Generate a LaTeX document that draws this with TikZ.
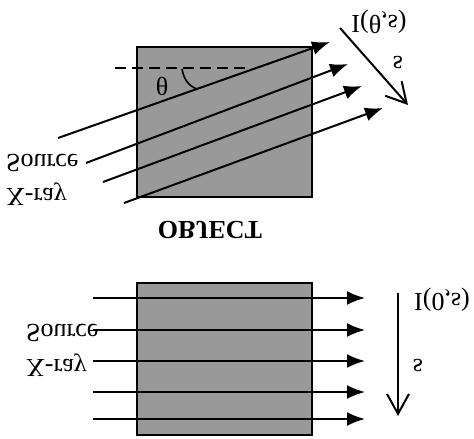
\documentclass[tikz,border=0pt]{standalone}
\usepackage{fontspec}
\setmainfont{Liberation Serif}
\usetikzlibrary{arrows.meta}
\begin{document}
\begin{tikzpicture}[x=1pt, y=-1pt,
        beam/.style={line width=2pt, -{Latex[length=18pt, width=14pt]}},
        saxis/.style={line width=2pt, -{Straight Barb[length=20pt, width=22pt, line width=2pt]}},
        upside/.style={yscale=-1, inner sep=0pt, font=\fontsize{26}{28}\selectfont},
        object/.style={draw, line width=1.8pt, fill=black!40, inner sep=0pt, minimum width=175pt}]
        \useasboundingbox (0,0) rectangle (474,439);

        % Nodes
        \node(top) [object, minimum height=150pt] at (224.5,122) {};
        \node(bottom) [object, minimum height=152pt] at (224.5,359) {};
        \node(name) [upside, font=\fontsize{26}{28}\selectfont\bfseries] at (210,230) {OBJECT};
        \node(src1) [upside, anchor=west] at (6,163) {Source};
        \node(xray1) [upside, anchor=west] at (6,194) {X-ray};
        \node(src2) [upside, anchor=west] at (26,333) {Source};
        \node(xray2) [upside, anchor=west] at (26,365) {X-ray};
        \node(theta) [upside] at (162,86) {θ};
        \node(Itheta) [upside] at (379,22) {I(θ,s)};
        \node(s1) [upside] at (398,62) {s};
        \node(Izero) [upside, anchor=west] at (414,300) {I(0,s)};
        \node(s2) [upside] at (418,365) {s};

        % Coordinates
        \coordinate(a1) at (58,138);  \coordinate(b1) at (330,42);
        \coordinate(a2) at (86,163);  \coordinate(b2) at (348,64);
        \coordinate(a3) at (103,182); \coordinate(b3) at (362,86);
        \coordinate(a4) at (124,203); \coordinate(b4) at (383,108);
        \coordinate(d1) at (115,68);  \coordinate(d2) at (247,68);
        \coordinate(u1) at (340,28);  \coordinate(u2) at (408,105);
        \coordinate(v1) at (398,293); \coordinate(v2) at (398,416);

        % Edges
        \draw[line width=1.8pt, dash pattern=on 11pt off 6pt] (d1) -- (d2);
        \draw[line width=1.6pt] (182,69) .. controls (184,80) and (189,86) .. (197,89);
        \foreach \i in {1,...,4}
          \draw[beam] (a\i) -- (b\i);
        \draw[saxis] (u1) -- (u2);
        \foreach \y in {298,330,361,392,419}
          \draw[beam] (93,\y) -- (365,\y);
        \draw[saxis] (v1) -- (v2);
    \end{tikzpicture}
\end{document}
